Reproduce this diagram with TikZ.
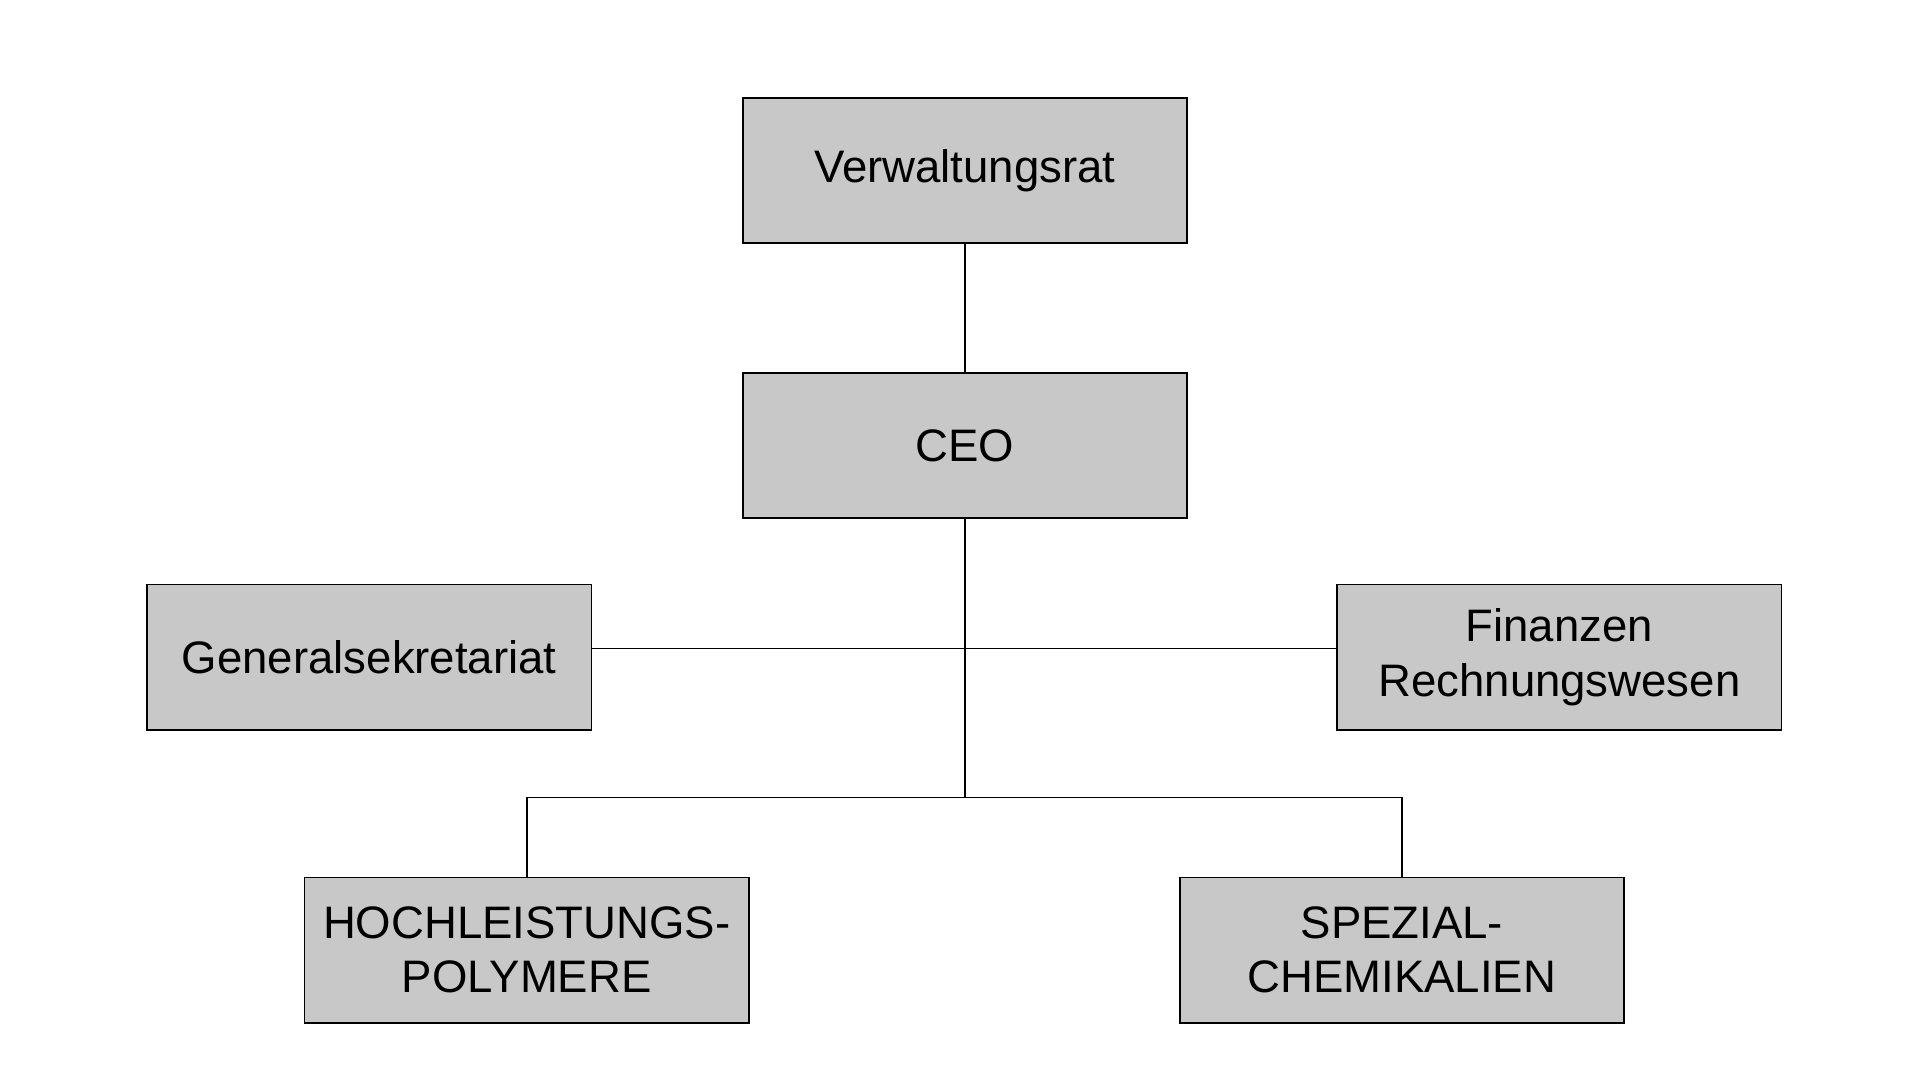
\documentclass[tikz,border=0pt]{standalone}
\usepackage{fontspec}
\setmainfont{Liberation Sans}
\begin{document}
\begin{tikzpicture}[x=1pt,y=-1pt,
  box/.style={draw=black,line width=1.3pt,fill=boxgray,minimum width=361pt,minimum height=118pt,inner sep=0pt,align=center,font=\fontsize{37}{44}\selectfont},
  conn/.style={line width=1.3pt}]
\definecolor{boxgray}{HTML}{C8C8C8}
\useasboundingbox (0,0) rectangle (1560,877);
\node[box] (vr) at (784,138.5) {Verwaltungsrat};
\node[box] (ceo) at (784,362) {CEO};
\node[box] (gs) at (300,534) {Generalsekretariat};
\node[box] (fin) at (1267,534) {Finanzen\\Rechnungswesen};
\node[box] (hp) at (428,772) {HOCHLEISTUNGS-\\POLYMERE};
\node[box] (sc) at (1139,772) {SPEZIAL-\\CHEMIKALIEN};
\coordinate (j) at (784,648);
\draw[conn] (vr) -- (ceo);
\draw[conn] (ceo) -- (j);
\draw[conn] (gs.east |- 0,527) -- (fin.west |- 0,527);
\draw[conn] (j) -| (hp.north);
\draw[conn] (j) -| (sc.north);
\end{tikzpicture}
\end{document}
